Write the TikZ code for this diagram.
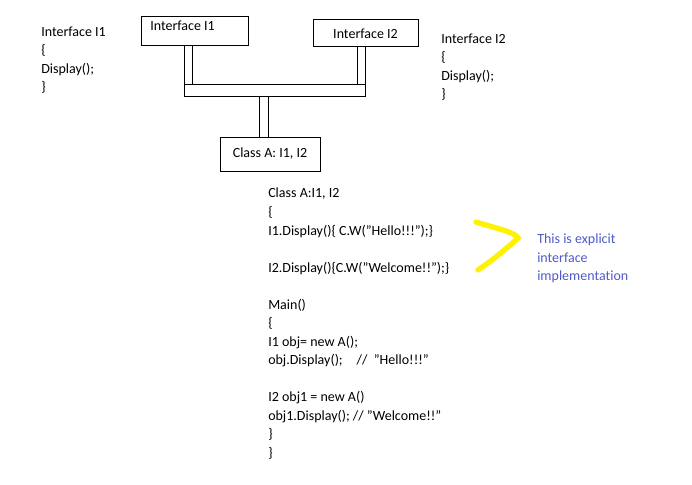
\documentclass[tikz,border=0pt]{standalone}
\usepackage{fontspec}
\setmainfont[Ligatures=NoCommon]{Carlito}
\usetikzlibrary{positioning}
\definecolor{notecol}{RGB}{80,90,200}
\newcommand{\dq}{\symbol{34}}
\begin{document}
\begin{tikzpicture}[x=0.75pt,y=-0.75pt,
        box/.style={rectangle, draw, line width=0.75pt, inner sep=0pt},
        code/.style={anchor=north west, inner sep=0pt, align=left, font=\fontsize{10.5}{13.6}\selectfont}
        ]
        \useasboundingbox (0,0) rectangle (692,485);

        \node[box, minimum width=107*0.75pt, minimum height=29*0.75pt] (ifaceA) at (194.5,31.5) {};
        \node[anchor=north west, inner sep=0pt, font=\fontsize{10.5}{12}\selectfont] at (150,21) {Interface I1};
        \node[box, minimum width=105*0.75pt, minimum height=27*0.75pt, font=\fontsize{10.5}{12}\selectfont] (ifaceB) at (365.5,33.5) {Interface I2};
        \node[box, minimum width=100*0.75pt, minimum height=34*0.75pt, font=\fontsize{10.5}{12}\selectfont] (classA) at (270,154) {Class A: I1, I2};

        % connectors
        \node[box, minimum width=8*0.75pt, minimum height=39*0.75pt] (stemA) at (188,65.5) {};
        \node[box, minimum width=8*0.75pt, minimum height=38*0.75pt] (stemB) at (361,66) {};
        \node[box, minimum width=181*0.75pt, minimum height=11*0.75pt] (bar) at (274.5,90.5) {};
        \node[box, minimum width=9*0.75pt, minimum height=41*0.75pt] (stemC) at (263.5,116.5) {};

        \node[code] (leftnote) at (41,27) {Interface I1\\\{\\Display();\\\}};
        \node[code] (rightnote) at (441,34) {Interface I2\\\{\\Display();\\\}};

        \node[code, font=\fontsize{10.5}{13.9}\selectfont] (listing) at (268,188) {Class A:I1, I2\\\{\\I1.Display()\{ C.W(\dq Hello!!!\dq);\}\\[13.9pt]I2.Display()\{C.W(\dq Welcome!!\dq);\}\\[13.9pt]Main()\\\{\\I1 obj= new A();\\obj.Display();\quad // \ \dq Hello!!!\dq\\[13.9pt]I2 obj1 = new A()\\obj1.Display(); // \dq Welcome!!\dq\\\}\\\}};

        \node[code, text=notecol] (note) at (537,234) {This is explicit\\interface\\implementation};

        \coordinate (braceS) at (476,222);
        \coordinate (braceT) at (478,270);
        \draw[yellow, line width=4pt, line cap=round] (braceS) .. controls (495,228) and (515,232) .. (518,238) .. controls (505,250) and (490,262) .. (braceT);
    \end{tikzpicture}
\end{document}
